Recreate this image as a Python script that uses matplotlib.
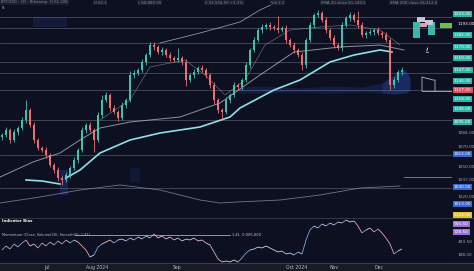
import numpy as np
import matplotlib
matplotlib.use('Agg')
import matplotlib.pyplot as plt
import matplotlib.transforms as mtransforms
from matplotlib.collections import LineCollection

# candle closes (one per day), first open, wick lengths
first_open = 1080
closes = [1082, 1087, 1077, 1085, 1089, 1097, 1107, 1092, 1077, 1069,
          1067, 1062, 1052, 1047, 1039, 1037, 1042, 1049, 1057, 1067,
          1087, 1092, 1087, 1077, 1102, 1117, 1122, 1109, 1105, 1099,
          1112, 1117, 1142, 1144, 1147, 1155, 1162, 1172, 1170, 1165,
          1167, 1162, 1159, 1157, 1159, 1155, 1137, 1142, 1145, 1149,
          1147, 1142, 1132, 1117, 1107, 1105, 1117, 1122, 1132, 1130,
          1137, 1152, 1167, 1177, 1187, 1190, 1192, 1190, 1189, 1187,
          1189, 1177, 1172, 1167, 1162, 1152, 1177, 1192, 1202, 1204,
          1197, 1187, 1179, 1172, 1169, 1192, 1199, 1202, 1197, 1192,
          1182, 1184, 1185, 1187, 1184, 1182, 1177, 1132, 1137, 1145,
          1147]
wick_up = [2, 3, 2, 3, 2, 3, 10, 2, 3, 2,
           2, 3, 2, 2, 3, 2, 3, 2, 3, 2,
           3, 2, 3, 2, 3, 5, 3, 2, 3, 2,
           3, 2, 4, 3, 2, 3, 2, 3, 3, 2,
           3, 2, 3, 2, 10, 2, 3, 2, 3, 2,
           3, 2, 2, 3, 2, 2, 3, 2, 3, 2,
           2, 3, 2, 3, 2, 3, 2, 3, 2, 12,
           2, 3, 2, 3, 2, 3, 2, 3, 2, 3,
           2, 3, 2, 3, 2, 3, 2, 3, 2, 9,
           3, 2, 3, 2, 3, 2, 3, 2, 3, 2,
           3]
wick_dn = [3, 2, 3, 2, 3, 2, 3, 2, 3, 2,
           2, 3, 2, 3, 3, 5, 2, 3, 2, 3,
           2, 3, 2, 12, 2, 3, 2, 3, 2, 3,
           2, 3, 2, 3, 2, 2, 3, 2, 3, 2,
           3, 2, 3, 2, 2, 3, 6, 2, 3, 2,
           2, 3, 3, 4, 3, 8, 2, 3, 2, 3,
           3, 2, 3, 2, 2, 3, 2, 3, 2, 3,
           2, 3, 2, 3, 2, 5, 3, 2, 3, 2,
           2, 3, 2, 3, 2, 3, 2, 3, 2, 3,
           2, 3, 2, 3, 2, 3, 2, 5, 3, 2,
           3]

# moving averages / bands (bar index, price)
ma_long_a_x = [6, 10, 14.5]
ma_long_a_y = [1037, 1036, 1033]
ma_long_b_x = [16, 19.5, 24.5, 32, 39.5, 49.5, 57, 59.5, 68, 74.5, 82, 88, 94.5, 97.5]
ma_long_b_y = [1039, 1047, 1064, 1077, 1084, 1090, 1100, 1109, 1127, 1137, 1155, 1162, 1167, 1165]
ma_mid_x = [-0.5, 7.75, 14.5, 19.5, 24.5, 32, 44.5, 54.5, 64.5, 73, 84.5, 94.5, 100.5]
ma_mid_y = [1040, 1055, 1064, 1077, 1089, 1095, 1100, 1114, 1142, 1165, 1170, 1172, 1167]
ma_fast_x = [24.5, 32, 37, 45.75, 50.75, 55.75, 60.75, 65.75, 72, 79.5, 87, 94.5, 99.5]
ma_fast_y = [1097, 1117, 1150, 1157, 1142, 1122, 1137, 1172, 1187, 1190, 1192, 1187, 1172]
band_up_x = [39.5, 49.5, 59.5, 64.5, 68.25]
band_up_y = [1174, 1184, 1195, 1207, 1214]
band_lo_x = [-0.5, 9.5, 19.5, 29.5, 39.5, 49.5, 54.5, 58.75, 69.5, 79.5, 89.5, 99.5]
band_lo_y = [1014, 1020, 1027, 1032, 1027, 1017, 1014, 1015, 1017, 1022, 1029, 1031]

levels = [1200, 1189, 1174, 1155, 1144, 1127, 1097, 1062, 1029]

# blue volume haze
haze_x = [59, 66, 74, 82, 90, 95, 98, 100.5, 102]
haze_top = [1130, 1131, 1129, 1131, 1130, 1134, 1142, 1148, 1140]
haze_bot = [1124, 1124, 1125, 1124, 1125, 1124, 1123, 1124, 1126]

# projection boxes right of last bar
proj_x = [103.6, 107.4]
proj_lo = [1179, 1182]
proj_hi = [1195, 1195]

# oscillator values
osc = [13, 17, 14, 19, 16, 20, 23, 17, 19, 15, 20, 17, 21, 18, 22, 19, 23, 20, 23, 21,
       17, 13, 6, 8, 16, 19, 21, 23, 20, 23, 24, 22, 25, 23, 26, 24, 27, 25, 29, 25,
       27, 24, 26, 23, 25, 22, 24, 23, 25, 22, 23, 20, 18, 11, 4, 1, 2, 1, 3, 1,
       5, 10, 13, 14, 16, 15, 17, 15, 13, 11, 12, 9, 10, 8, 11, 9, 23, 33, 37, 35,
       39, 37, 40, 38, 41, 40, 43, 41, 42, 37, 30, 33, 35, 31, 34, 30, 25, 19, 9, 12,
       14]
osc_ref = 28

price_labels = [1203, 1193, 1182, 1170, 1159, 1147, 1136, 1127, 1118, 1108, 1095,
                1084, 1070, 1063, 1050, 1037, 1030, 1020, 1013]
price_kinds = ['t', 'w', 't', 't', 't', 't', 't', 'r', 't', 't', 't',
               'g', 'g', 'b', 'g', 'g', 'b', 'g', 'b']
osc_labels = [48, 39, 31, 21, 8]
osc_kinds = ['y', 'p', 'p', 'g', 'g']

time_pos = [11.25, 23.75, 43.75, 73.75, 83, 94.25]
time_lab = ['Jul', 'Aug 2024', 'Sep', 'Oct 2024', 'Nov', 'Dec']

bg = '#0d1020'
up_c = '#3fc1b0'
dn_c = '#ee6d74'
box_c = {'t': '#2fb3a6', 'r': '#e0505c', 'b': '#3a66d0', 'y': '#e3bd3e', 'p': '#9a72d6'}

fig = plt.figure(figsize=(4.74, 2.71), dpi=100, facecolor=bg)
ax = fig.add_axes([0, 1 - 217 / 271, 452 / 474, 212 / 271], facecolor=bg)
ax2 = fig.add_axes([0, 8 / 271, 452 / 474, 45 / 271], facecolor=bg)
for a in (ax, ax2):
    for s in a.spines.values():
        s.set_visible(False)
    a.set_xlim(-0.5, 112.5)
    a.set_yticks([])

ax.set_ylim(1000, 1212)
ax.set_xticks([])

idx = np.arange(len(closes))
c = np.array(closes, dtype=float)
o = np.concatenate([[first_open], c[:-1]])
hi = np.maximum(o, c) + np.array(wick_up)
lo = np.minimum(o, c) - np.array(wick_dn)
cols = [up_c if cc >= oo else dn_c for oo, cc in zip(o, c)]

for lv in levels:
    ax.axhline(lv, color='#9aa0b0', lw=0.5, alpha=0.5)

# haze
ax.fill_between(haze_x, haze_bot, haze_top, color='#2446a8', alpha=0.25, lw=0)
ax.fill_between(haze_x[-4:], haze_bot[-4:], haze_top[-4:], color='#2f5bd0', alpha=0.22, lw=0)
ax.fill_between([14.5, 16.5], [1022, 1022], [1047, 1047], color='#2446a8', alpha=0.35, lw=0)
ax.fill_between([32, 34.5], [1035, 1035], [1049, 1049], color='#1d3070', alpha=0.25, lw=0)
ax.fill_between([7.75, 16.25], [1190, 1190], [1200, 1200], color='#223477', alpha=0.3, lw=0)

ax.plot(band_lo_x, band_lo_y, color='#8a90a0', lw=0.6, alpha=0.8)
ax.plot(band_up_x, band_up_y, color='#b0b4c0', lw=0.6, alpha=0.8)
ax.plot(ma_mid_x, ma_mid_y, color='#b8bcc6', lw=0.7, alpha=0.75)
ax.plot(ma_fast_x, ma_fast_y, color='#a8acb8', lw=0.5, alpha=0.55)
ax.plot(ma_long_a_x, ma_long_a_y, color='#8fe0ea', lw=1.2)
ax.plot(ma_long_b_x, ma_long_b_y, color='#8fe0ea', lw=1.2)

ax.vlines(idx, lo, hi, colors=cols, lw=0.6)
ax.bar(idx, np.maximum(np.abs(c - o), 0.8), bottom=np.minimum(o, c), width=0.7, color=cols, lw=0)

# projection boxes
ax.bar(proj_x, np.subtract(proj_hi, proj_lo), bottom=proj_lo, width=1.6, color='#35b9ad', lw=0)
ax.bar([104.7, 106.7], [5, 5], bottom=[1195, 1192], width=2.0, color='#c9c6d8', lw=0)
ax.bar([105.4], [4], bottom=[1190], width=1.6, color='#d9a0b0', lw=0)
ax.bar([111], [5], bottom=[1189], width=3.0, color='#6cc046', lw=0)
ax.plot([105, 105, 107.75, 108.25, 108.25], [1126, 1140, 1137, 1137, 1126], color='#b0b4c0', lw=0.6)
ax.plot([105, 112.5], [1126, 1126], color='#b0b4c0', lw=0.6)
ax.plot([100.5, 112.5], [1040, 1040], color='#9aa0b0', lw=0.5)
ax.plot([106.2, 106.4], [1166, 1169], color='#e8e8e8', lw=0.6)
ax.plot([106.0, 106.6], [1165, 1165], color='#e8e8e8', lw=0.5)

# right price scale
tr = mtransforms.blended_transform_factory(ax.transAxes, ax.transData)
for p, k in zip(price_labels, price_kinds):
    txt = f'{p:.2f}'
    if k in box_c:
        ax.text(1.004, p, txt, transform=tr, fontsize=3.1, color='white', va='center', ha='left',
                clip_on=False, bbox=dict(boxstyle='square,pad=0.25', fc=box_c[k], ec='none'))
    else:
        clr = 'white' if k == 'w' else '#a0a6b2'
        ax.text(1.012, p, txt, transform=tr, fontsize=3.1, color=clr, va='center', ha='left', clip_on=False)

# oscillator panel
ax2.set_ylim(0, 45)
pts = np.column_stack([idx, osc]).reshape(-1, 1, 2)
segs = np.concatenate([pts[:-1], pts[1:]], axis=1)
d = np.diff(osc)
seg_cols = ['#7aa6e6' if v > 2 else ('#e8a4b4' if v < -2 else '#d8d0d8') for v in d]
ax2.add_collection(LineCollection(segs, colors=seg_cols, linewidths=0.6))
ax2.plot([18.25, 57], [osc_ref, osc_ref], color='#c8ccd4', lw=0.5)
ax2.text(57.5, osc_ref, '1.41  0.005,000', fontsize=2.6, color='#c8ccd4', va='center')
ax2.text(0.005, 0.93, 'Indicator Bias', transform=ax2.transAxes, fontsize=2.8, color='white',
         fontweight='bold', va='center')
ax2.text(0.005, osc_ref, 'Momentum (Close, Volume(20), Smooth(5), 1.41)', fontsize=2.5,
         color='#c0c4cc', va='center')
tr2 = mtransforms.blended_transform_factory(ax2.transAxes, ax2.transData)
for v, k in zip(osc_labels, osc_kinds):
    txt = f'{v * 23.5:.2f}'
    if k in box_c:
        ax2.text(1.004, v, txt, transform=tr2, fontsize=3.1, color='white', va='center', ha='left',
                 clip_on=False, bbox=dict(boxstyle='square,pad=0.25', fc=box_c[k], ec='none'))
    else:
        ax2.text(1.012, v, txt, transform=tr2, fontsize=3.1, color='#a0a6b2', va='center', ha='left',
                 clip_on=False)

ax2.set_xticks(time_pos)
ax2.set_xticklabels(time_lab, fontsize=3.3, color='#b8bcc6')
ax2.tick_params(axis='x', length=0, pad=1.5)

# panel separator and time strip
fig.add_artist(plt.Line2D([0, 1], [1 - 217.5 / 271] * 2, color='#3a3e4a', lw=0.6))
fig.add_artist(plt.Rectangle((0, 0), 1, 8 / 271, color='#181b27', zorder=-1))
fig.add_artist(plt.Line2D([0, 1], [8 / 271] * 2, color='#4a4e5a', lw=0.5))

# header strip
head = [(0.0, 'BTCUSD · 1D · Bitstamp  O 61.20K'), (0.196, 'H 62.1'), (0.29, 'L 60,880.00'),
        (0.43, 'C 61,504.00 +1.2%'), (0.57, 'Vol 2.1'), (0.675, 'SMA 20 close 61,240.5'),
        (0.82, 'SMA 200 close 58,412.0')]
for hx, ht in head:
    fig.text(hx + 0.002, 1 - 2.5 / 271, ht, fontsize=2.8, color='#80859a', va='center', ha='left',
             bbox=dict(boxstyle='square,pad=0.2', fc='#1b1f2c', ec='none'))
fig.text(0.003, 1 - 8 / 271, 'S', fontsize=3, color='#c0c4cc', va='center')

fig.savefig('out.png', dpi=100, facecolor=bg)
